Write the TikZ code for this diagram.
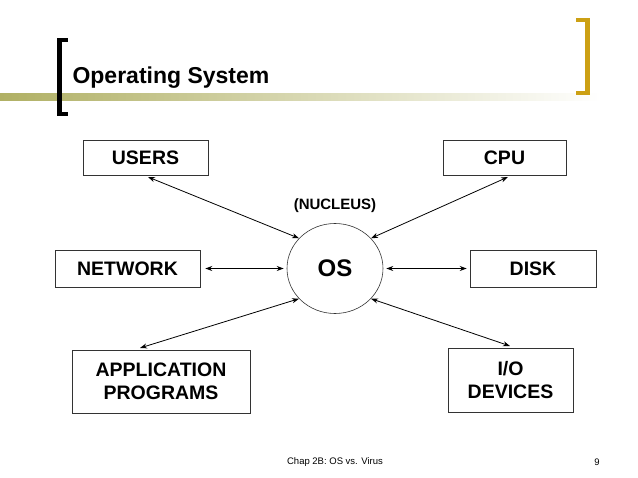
\documentclass[tikz,border=0pt]{standalone}
\usepackage{fontspec}
\setmainfont{Liberation Sans}
\usetikzlibrary{shapes.geometric,arrows.meta}
\definecolor{khaki}{RGB}{176,176,100}
\definecolor{gold}{RGB}{204,160,20}
\begin{document}
\begin{tikzpicture}[x=1pt,y=-1pt,
  box/.style={draw=black!80,line width=0.6pt,font=\bfseries\fontsize{19.5}{23.5}\selectfont,align=center},
  arr/.style={{Stealth[length=7pt,width=5pt]}-{Stealth[length=7pt,width=5pt]},line width=0.8pt}]
\useasboundingbox (0,0) rectangle (638,478);
\shade[left color=khaki,right color=white] (0,94) rectangle (600,101);
\fill[black] (57,38) rectangle (62,116);
\fill[black] (57,38) rectangle (68,42);
\fill[black] (57,112) rectangle (68,116);
\fill[gold] (585,18) rectangle (590,95);
\fill[gold] (576,18) rectangle (590,22);
\fill[gold] (576,91) rectangle (590,95);
\node[anchor=west,font=\bfseries\fontsize{23}{27}\selectfont] (title) at (69,78) {Operating System};
\node[box,minimum width=125,minimum height=35] (users) at (145.5,157.5) {USERS};
\node[box,minimum width=123,minimum height=35] (cpu) at (504.5,157.5) {CPU};
\node[box,minimum width=145,minimum height=37] (net) at (127.5,268.5) {NETWORK};
\node[box,minimum width=126,minimum height=37] (disk) at (533,268.5) {DISK};
\node[box,minimum width=178,minimum height=63] (app) at (161,381.5) {APPLICATION\\PROGRAMS};
\node[box,minimum width=125,minimum height=64] (io) at (510.5,380) {I/O\\DEVICES};
\node[ellipse,draw=black!80,line width=0.6pt,minimum width=96,minimum height=90,font=\bfseries\fontsize{24}{28}\selectfont] (os) at (335,268.5) {OS};
\node[font=\bfseries\fontsize{15}{18}\selectfont] (nuc) at (335,206) {(NUCLEUS)};
\coordinate (u1) at (148,177);
\coordinate (c1) at (508,177);
\coordinate (a1) at (140,348);
\coordinate (i1) at (510,346);
\draw[arr] (u1) -- (os.140);
\draw[arr] (c1) -- (os.40);
\draw[arr] ([xshift=5pt]net.east) -- ([xshift=-3pt]os.west);
\draw[arr] ([xshift=-3pt]disk.west) -- ([xshift=3pt]os.east);
\draw[arr] (a1) -- (os.220);
\draw[arr] (i1) -- (os.-40);
\node[font=\fontsize{9.5}{11}\selectfont] (foot) at (335,462) {Chap 2B: OS vs. Virus};
\node[font=\fontsize{9.5}{11}\selectfont] (pg) at (597,462) {9};
\end{tikzpicture}
\end{document}
